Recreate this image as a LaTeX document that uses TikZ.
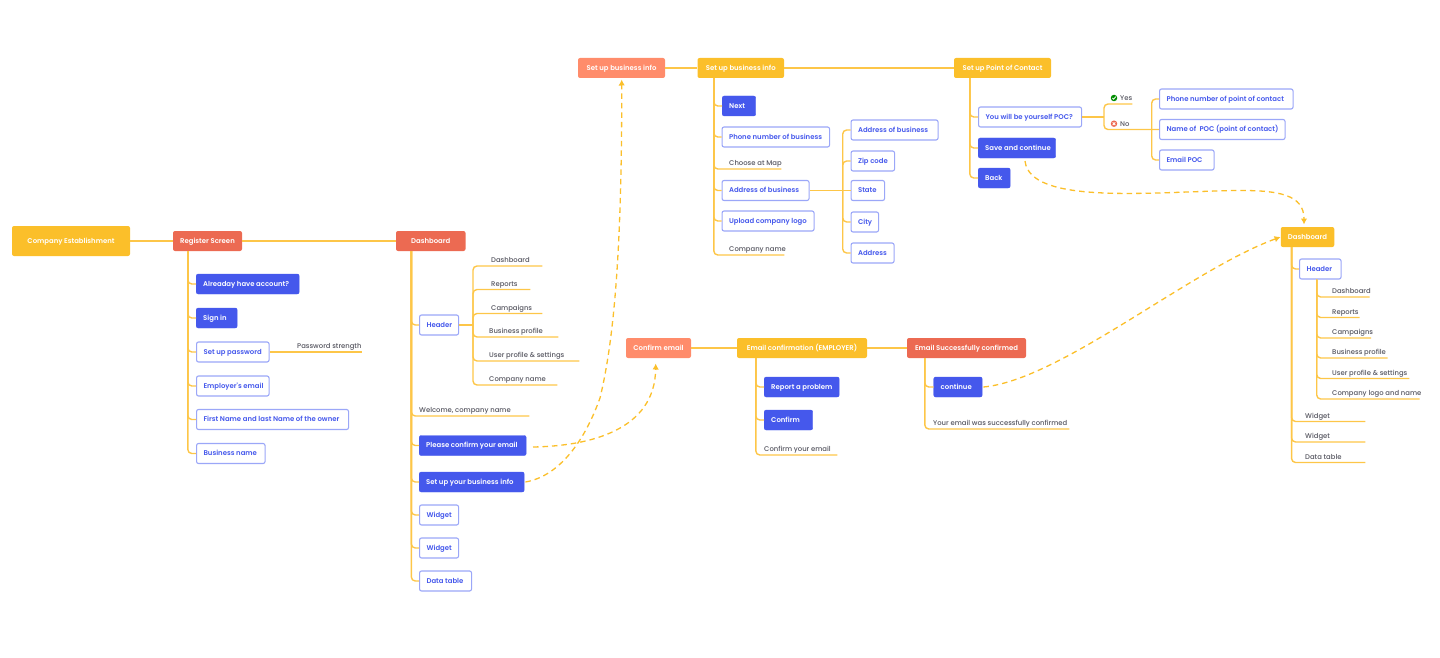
\documentclass[tikz,border=0pt]{standalone}
\usepackage{fontspec}
\usetikzlibrary{arrows.meta}
\setmainfont{Poppins Medium}
\newfontfamily\boxfont{Poppins SemiBold}
\definecolor{linegold}{HTML}{FDC648}
\definecolor{goldbox}{HTML}{FBBF2A}
\definecolor{redbox}{HTML}{EC6A52}
\definecolor{peachbox}{HTML}{FF8C6B}
\definecolor{btnblue}{HTML}{4558EC}
\definecolor{fieldline}{HTML}{9BA7F8}
\definecolor{leafgray}{HTML}{55555F}
\tikzset{
  fixedtext/.style={execute at begin node={\hbox to #1\bgroup},execute at end node={\hss\egroup}},
  boxtext/.style={font=\boxfont\fontsize{6.9}{9}\selectfont,text height=6.6pt,text depth=1.8pt},
  headbox/.style={boxtext,rounded corners=2pt,minimum height=20pt,inner sep=0pt,text=white},
  btnbox/.style={boxtext,rounded corners=2pt,draw=btnblue,fill=btnblue,text=white,anchor=west,minimum height=20pt,inner xsep=7pt,inner ysep=0pt,fixedtext=#1},
  fieldbox/.style={boxtext,rounded corners=2pt,draw=fieldline,line width=1.1pt,fill=white,text=btnblue,anchor=west,minimum height=20pt,inner xsep=7pt,inner ysep=0pt,fixedtext=#1},
  leaf/.style={anchor=south west,inner xsep=0pt,inner ysep=1.2pt,text height=6.6pt,text depth=1.8pt,text=leafgray,fixedtext=#1},
  branch/.style={draw=linegold,line width=1.4pt,rounded corners=4pt},
  jump/.style={draw=goldbox,line width=1.3pt,dash pattern=on 5.5pt off 4pt,-{Latex[length=6pt,width=6.5pt]}},
}
\begin{document}
\begin{tikzpicture}[x=1pt,y=-1pt,every node/.style={font=\fontsize{6.85}{9}\selectfont}]
\useasboundingbox (0,0) rectangle (1440,658);
%% the main boxes
\node[headbox,fill=goldbox,minimum width=118pt,minimum height=30pt] (company) at (71,241) {Company Establishment};
\node[headbox,fill=redbox,minimum width=69pt] (register) at (207.5,241) {Register Screen};
\node[headbox,fill=redbox,minimum width=69.5pt] (dash) at (430.75,241) {Dashboard};
\node[headbox,fill=peachbox,minimum width=87pt] (infostart) at (621.5,68) {Set up business info};
\node[headbox,fill=goldbox,minimum width=86.5pt] (info) at (740.75,68) {Set up business info};
\node[headbox,fill=goldbox,minimum width=97pt] (poc) at (1002.5,68) {Set up Point of Contact};
\node[headbox,fill=peachbox,minimum width=65pt] (confstart) at (658.5,348) {Confirm email};
\node[headbox,fill=goldbox,minimum width=130pt] (conf) at (802,348) {Email confirmation (EMPLOYER)};
\node[headbox,fill=redbox,minimum width=119pt] (done) at (966.5,348) {Email Successfully confirmed};
\node[headbox,fill=goldbox,minimum width=53.5pt] (dashend) at (1307.5,237) {Dashboard};
\draw[branch] (company) -- (register);
\draw[branch] (register) -- (dash);
\draw[branch] (infostart) -- (info);
\draw[branch] (info) -- (poc);
\draw[branch] (confstart) -- (conf);
\draw[branch] (conf) -- (done);
%% register screen
\coordinate (regtrunk) at ([xshift=15pt]register.south west);
\node[btnbox=89pt] (account) at (196,284) {Alreaday have account?};
\node[btnbox=27pt] (signin) at (196,318) {Sign in};
\node[fieldbox=58.5pt] (password) at (196,352) {Set up password};
\node[fieldbox=58.5pt] (employer) at (196,386) {Employer's email};
\node[fieldbox=138pt] (owner) at (196,419.5) {First Name and last Name of the owner};
\node[fieldbox=54.5pt] (business) at (196,453.5) {Business name};
\node[leaf=65pt] (strength) at (297,352) {Password strength};
\draw[branch] (password) -- (strength.south east);
\draw[branch] (regtrunk) |- (account.west);
\draw[branch] (regtrunk) |- (signin.west);
\draw[branch] (regtrunk) |- (password.west);
\draw[branch] (regtrunk) |- (employer.west);
\draw[branch] (regtrunk) |- (owner.west);
\draw[branch] (regtrunk) |- (business.west);
%% dashboard
\coordinate (dashtrunk) at ([xshift=15.5pt]dash.south west);
\node[fieldbox=25pt] (header) at (419,325) {Header};
\node[leaf=110pt] (welcome) at (419,416) {Welcome, company name};
\node[btnbox=93pt] (askconfirm) at (419,445.5) {Please confirm your email};
\node[btnbox=91pt] (askinfo) at (419,482) {Set up your business info};
\node[fieldbox=25pt] (widgeta) at (419,515) {Widget};
\node[fieldbox=25pt] (widgetb) at (419,548) {Widget};
\node[fieldbox=38pt] (datatable) at (419,581) {Data table};
\draw[branch] (dashtrunk) |- (header.west);
\draw[branch] (dashtrunk) |- (welcome.south east);
\draw[branch] (dashtrunk) |- (askconfirm.west);
\draw[branch] (dashtrunk) |- (askinfo.west);
\draw[branch] (dashtrunk) |- (widgeta.west);
\draw[branch] (dashtrunk) |- (widgetb.west);
\draw[branch] (dashtrunk) |- (datatable.west);
%% dashboard header
\coordinate (headfork) at (473,325);
\node[leaf=51pt] (hdash) at (491,266) {Dashboard};
\node[leaf=39pt] (hreports) at (491,289.5) {Reports};
\node[leaf=51pt] (hcamp) at (491,313.5) {Campaigns};
\node[leaf=69pt] (hprofile) at (489,337) {Business profile};
\node[leaf=90pt] (huser) at (489,361) {User profile \& settings};
\node[leaf=68pt] (hcompany) at (489,385) {Company name};
\draw[branch] (header) -- (headfork);
\draw[branch] (headfork) |- (hdash.south east);
\draw[branch] (headfork) |- (hreports.south east);
\draw[branch] (headfork) |- (hcamp.south east);
\draw[branch] (headfork) |- (hprofile.south east);
\draw[branch] (headfork) |- (huser.south east);
\draw[branch] (headfork) |- (hcompany.south east);
%% business info
\coordinate (infotrunk) at ([xshift=16.5pt]info.south west);
\node[btnbox=19.5pt] (next) at (722,106) {Next};
\node[fieldbox=93.5pt] (phone) at (721.5,137) {Phone number of business};
\node[leaf=52pt] (map) at (729,169) {Choose at Map};
\node[fieldbox=73pt] (address) at (721.5,190.5) {Address of business};
\node[fieldbox=78pt] (logo) at (721.5,221) {Upload company logo};
\node[leaf=55pt] (cname) at (729,255) {Company name};
\draw[branch] (infotrunk) |- (next.west);
\draw[branch] (infotrunk) |- (phone.west);
\draw[branch] (infotrunk) |- (map.south east);
\draw[branch] (infotrunk) |- (address.west);
\draw[branch] (infotrunk) |- (logo.west);
\draw[branch] (infotrunk) |- (cname.south east);
%% address fields
\node[fieldbox=73pt] (addra) at (850.5,130) {Address of business};
\node[fieldbox=29.5pt] (zip) at (850.5,161) {Zip code};
\node[fieldbox=19.5pt] (state) at (850.5,190.5) {State};
\node[fieldbox=13.5pt] (city) at (850.5,222) {City};
\node[fieldbox=29pt] (addrb) at (850.5,253) {Address};
\coordinate (addrfork) at (842.7,190.5);
\draw[branch] (address) -- (state);
\draw[branch] (addrfork) |- (addra.west);
\draw[branch] (addrfork) |- (zip.west);
\draw[branch] (addrfork) |- (city.west);
\draw[branch] (addrfork) |- (addrb.west);
%% point of contact
\coordinate (poctrunk) at ([xshift=16pt]poc.south west);
\node[fieldbox=89pt] (yourself) at (978,117) {You will be yourself POC?};
\node[btnbox=63.5pt] (save) at (978,148) {Save and continue};
\node[btnbox=18pt] (back) at (978,178) {Back};
\draw[branch] (poctrunk) |- (yourself.west);
\draw[branch] (poctrunk) |- (save.west);
\draw[branch] (poctrunk) |- (back.west);
\coordinate (yesnofork) at (1104,117);
\node[leaf=12pt] (yes) at (1120,104) {Yes};
\node[leaf=12pt] (no) at (1120,129.5) {No};
\node[fieldbox=119.5pt] (pocphone) at (1159,99) {Phone number of point of contact};
\node[fieldbox=111.5pt] (pocname) at (1159,129.5) {Name of~ POC (point of contact)};
\node[fieldbox=40.5pt] (pocmail) at (1159,160) {Email POC};
\coordinate (pocfork) at (1151.7,129.5);
\draw[branch] (yourself) -- (yesnofork);
\draw[branch] (yesnofork) |- (yes.south east);
\draw[branch] (yesnofork) |- (pocname.west);
\draw[branch] (pocfork) |- (pocphone.west);
\draw[branch] (pocfork) |- (pocmail.west);
%% the yes and no marks
\node[circle,fill=green!55!black,inner sep=0pt,minimum size=6.5pt] (yesmark) at (1114,98) {};
\draw[white,line width=.8pt] ([shift={(-1.6pt,0pt)}]yesmark.center) -- ([shift={(-.4pt,-1.2pt)}]yesmark.center) -- ([shift={(1.8pt,1.4pt)}]yesmark.center);
\node[circle,fill=redbox,inner sep=0pt,minimum size=6.5pt] (nomark) at (1114,123.7) {};
\draw[white,line width=.8pt] ([shift={(-1.3pt,-1.3pt)}]nomark.center) -- ([shift={(1.3pt,1.3pt)}]nomark.center);
\draw[white,line width=.8pt] ([shift={(-1.3pt,1.3pt)}]nomark.center) -- ([shift={(1.3pt,-1.3pt)}]nomark.center);
%% email confirmation
\coordinate (conftrunk) at ([xshift=19pt]conf.south west);
\node[btnbox=61pt] (problem) at (764,387) {Report a problem};
\node[btnbox=34.5pt] (confirm) at (764,420) {Confirm};
\node[leaf=73pt] (yourmail) at (764,455) {Confirm your email};
\draw[branch] (conftrunk) |- (problem.west);
\draw[branch] (conftrunk) |- (confirm.west);
\draw[branch] (conftrunk) |- (yourmail.south east);
\coordinate (donetrunk) at ([xshift=18pt]done.south west);
\node[btnbox=34.5pt] (continue) at (933.5,387) {continue};
\node[leaf=136pt] (success) at (933,429) {Your email was successfully confirmed};
\draw[branch] (donetrunk) |- (continue.west);
\draw[branch] (donetrunk) |- (success.south east);
%% last dashboard
\coordinate (endtrunk) at ([xshift=11pt]dashend.south west);
\node[fieldbox=27.5pt] (endhead) at (1299,269) {Header};
\node[leaf=60pt] (ewidgeta) at (1305,421.5) {Widget};
\node[leaf=60pt] (ewidgetb) at (1305,442) {Widget};
\node[leaf=60pt] (etable) at (1305,462.5) {Data table};
\draw[branch] (endtrunk) |- (endhead.west);
\draw[branch] (endtrunk) |- (ewidgeta.south east);
\draw[branch] (endtrunk) |- (ewidgetb.south east);
\draw[branch] (endtrunk) |- (etable.south east);
\coordinate (endfork) at ([xshift=17.7pt]endhead.south west);
\node[leaf=37.3pt] (edash) at (1332,297) {Dashboard};
\node[leaf=27.3pt] (ereports) at (1332,317.5) {Reports};
\node[leaf=38.7pt] (ecamp) at (1332,338) {Campaigns};
\node[leaf=55.3pt] (eprofile) at (1332,358) {Business profile};
\node[leaf=77pt] (euser) at (1332,378.5) {User profile \& settings};
\node[leaf=87.3pt] (elogo) at (1332,399) {Company logo and name};
\draw[branch] (endfork) |- (edash.south east);
\draw[branch] (endfork) |- (ereports.south east);
\draw[branch] (endfork) |- (ecamp.south east);
\draw[branch] (endfork) |- (eprofile.south east);
\draw[branch] (endfork) |- (euser.south east);
\draw[branch] (endfork) |- (elogo.south east);
%% the dashed jumps
\coordinate (confoff) at (533,447);
\coordinate (confin) at (655.7,363.5);
\draw[jump] (confoff) .. controls (590,446) and (655,430) .. (confin);
\coordinate (infooff) at ([xshift=1pt]askinfo.east);
\coordinate (infoin) at (621.7,79.5);
\draw[jump] (infooff) .. controls (560,476) and (585,440) .. (600,398) .. controls (614,340) and (622,250) .. (infoin);
\coordinate (saveoff) at (1025,161);
\coordinate (savein) at (1304,224.5);
\draw[jump] (saveoff) .. controls (1030,205) and (1150,192) .. (1235,190.5) .. controls (1280,190) and (1304,195) .. (savein);
\coordinate (contoff) at ([xshift=1pt]continue.east);
\draw[jump] (contoff) .. controls (1060,380) and (1190,270) .. (dashend.west);
\end{tikzpicture}
\end{document}
